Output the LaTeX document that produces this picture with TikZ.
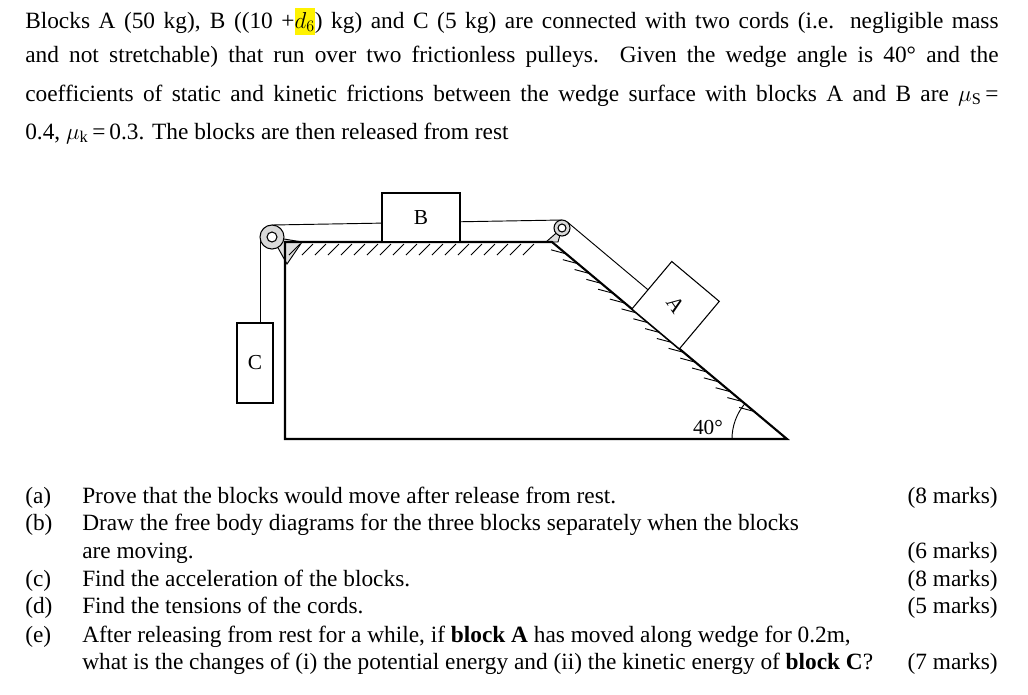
\documentclass[tikz,border=0pt]{standalone}
\usepackage{fontspec}
\setmainfont{Liberation Serif}
\usetikzlibrary{calc}
\begin{document}
\begin{tikzpicture}[x=0.75pt,y=-0.75pt,
  txt/.style={anchor=base west,inner sep=0pt,font=\fontsize{17.5}{21}\selectfont},
  mk/.style={anchor=base east,inner sep=0pt,font=\fontsize{17.5}{21}\selectfont},
  wedge/.style={line width=1.6pt,line join=miter},
  cord/.style={line width=0.7pt},
  blk/.style={draw,line width=0.8pt,fill=white,inner sep=0pt,font=\fontsize{16}{19}\selectfont},
  hatch/.style={line width=0.7pt}]
\useasboundingbox (0,0) rectangle (1028,694);
% text
\node[txt] (l1) at (25,28) {\makebox[730pt][s]{Blocks A (50 kg), B ((10 +\colorbox{yellow}{\kern-3pt\hbox{$d_6$}\kern-3pt}) kg) and C (5 kg) are connected with two cords (i.e. negligible mass}};
\node[txt] (l2) at (25,62) {\makebox[730pt][s]{and not stretchable) that run over two frictionless pulleys. Given the wedge angle is 40° and the}};
\node[txt] (l3) at (25,101) {\makebox[730pt][s]{coefficients of static and kinetic frictions between the wedge surface with blocks A and B are $\mu_{\mathrm{S}}$\,=}};
\node[txt] (l4) at (25,139) {0.4, $\mu_{\mathrm{k}}$\,=\,0.3. The blocks are then released from rest};
% geometry
\coordinate (W1) at (285,242);
\coordinate (W2) at (285,439);
\coordinate (W3) at (787,439);
\coordinate (W4) at (552,242);
\coordinate (PL) at (272,237);
\coordinate (PR) at (562,228);
% supports
\draw[line width=0.7pt,fill=gray!25] (PL) -- (302,242) -- (287,264) -- cycle;
\draw[line width=0.7pt,fill=gray!25] (PR) -- (546,242) -- (558,242) -- cycle;
% cords
\draw[cord] ($(PL)+(0,-12)$) -- ($(PR)+(0,-8)$);
\draw[cord] ($(PL)+(-12,0)$) -- (260,323);
\coordinate (T) at ($(PR)+(0.643*8,-0.766*8)$);
\draw[cord] (T) -- ($(T)+(0.766*108,0.643*108)$);
% pulleys
\draw[line width=0.8pt,fill=gray!30] (PL) circle[radius=12];
\draw[line width=0.8pt,fill=white] (PL) circle[radius=5];
\draw[line width=0.8pt,fill=gray!30] (PR) circle[radius=8];
\draw[line width=0.8pt,fill=white] (PR) circle[radius=4];
% wedge
\draw[wedge] (W1) -- (W2) -- (W3) -- (W4) -- cycle;
\foreach \x in {300,313,...,545} \draw[hatch] (\x,244) -- (\x-11,255);
\foreach \t in {0.06,0.11,...,0.9} \draw[hatch] ($(W4)!\t!(W3)$) -- ++(-15,-4);
% angle
\draw[line width=0.7pt] ($(W3)+(-55,0)$) arc[start angle=180,end angle=220,radius=55];
\node[inner sep=0pt,font=\fontsize{16}{19}\selectfont] (ang) at (708,427) {40°};
% blocks
\node[blk,minimum width=78*0.75pt,minimum height=49*0.75pt] (B) at (421,217.5) {B};
\node[blk,minimum width=36*0.75pt,minimum height=80*0.75pt] (C) at (255,363) {C};
\coordinate (A0) at ($(W4)!0.34!(W3)$);
\coordinate (A1) at ($(A0)+(0.766*62,0.643*62)$);
\coordinate (A2) at ($(A1)+(0.643*62,-0.766*62)$);
\coordinate (A3) at ($(A0)+(0.643*62,-0.766*62)$);
\draw[line width=0.8pt,fill=white] (A0) -- (A1) -- (A2) -- (A3) -- cycle;
\node[rotate=-55,inner sep=0pt,font=\fontsize{16}{19}\selectfont] (Al) at ($(A0)!0.5!(A2)$) {A};
% questions
\node[txt] (qa) at (25,503) {(a)};
\node[txt] (ta) at (82,503) {Prove that the blocks would move after release from rest.};
\node[mk] (ma) at (998,503) {(8 marks)};
\node[txt] (qb) at (25,530) {(b)};
\node[txt] (tb) at (82,530) {Draw the free body diagrams for the three blocks separately when the blocks};
\node[txt] (tb2) at (82,558) {are moving.};
\node[mk] (mb) at (998,558) {(6 marks)};
\node[txt] (qc) at (25,586) {(c)};
\node[txt] (tc) at (82,586) {Find the acceleration of the blocks.};
\node[mk] (mc) at (998,586) {(8 marks)};
\node[txt] (qd) at (25,613) {(d)};
\node[txt] (td) at (82,613) {Find the tensions of the cords.};
\node[mk] (md) at (998,613) {(5 marks)};
\node[txt] (qe) at (25,642) {(e)};
\node[txt] (te) at (82,642) {After releasing from rest for a while, if \textbf{block A} has moved along wedge for 0.2m,};
\node[txt] (te2) at (82,669) {what is the changes of (i) the potential energy and (ii) the kinetic energy of \textbf{block C}?};
\node[mk] (me) at (998,669) {(7 marks)};
\end{tikzpicture}
\end{document}
